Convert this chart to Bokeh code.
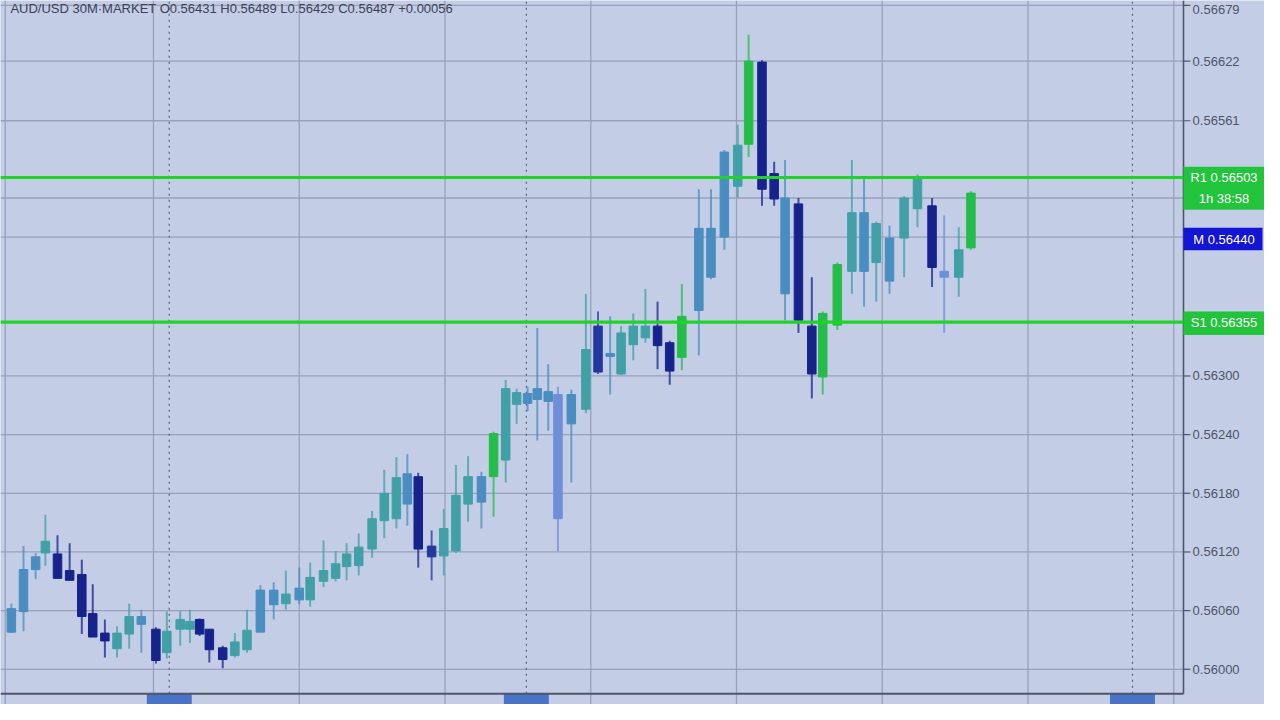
from bokeh.plotting import figure
from bokeh.models import ColumnDataSource, Range1d
from bokeh.core.properties import value
from bokeh.embed import file_html
from bokeh.resources import INLINE

# ---- data (bar time in bar units, OHLC prices) ----
bar_time = [0.0, 1.0, 2.0, 2.8, 3.8, 4.8, 5.8, 6.7, 7.7, 8.7, 9.7, 10.7, 11.9, 12.8, 13.9, 14.7,
            15.5, 16.3, 17.4, 18.4, 19.4, 20.5, 21.6, 22.6, 23.7, 24.6, 25.7, 26.7, 27.6, 28.6,
            29.7, 30.7, 31.7, 32.6, 33.5, 34.6, 35.6, 36.6, 37.6, 38.7, 39.7, 40.7, 41.6, 42.5,
            43.3, 44.2, 45.0, 46.1, 47.3, 48.3, 49.3, 50.2, 51.2, 52.2, 53.2, 54.2, 55.2, 56.6,
            57.6, 58.7, 59.8, 60.7, 61.8, 62.8, 63.7, 64.8, 65.9, 66.8, 68.0, 69.2, 70.2, 71.2,
            72.3, 73.5, 74.6, 75.8, 76.8, 78.0, 79.0]

open_ = [0.56038, 0.56059, 0.56102, 0.56119, 0.56118, 0.56101, 0.56097, 0.56057, 0.56037, 0.56021,
         0.56036, 0.56046, 0.56041, 0.56017, 0.56041, 0.56041, 0.56051, 0.56041, 0.56022, 0.56014,
         0.56020, 0.56038, 0.56066, 0.56067, 0.56071, 0.56071, 0.56090, 0.56093, 0.56105, 0.56106,
         0.56123, 0.56152, 0.56154, 0.56169, 0.56197, 0.56126, 0.56116, 0.56121, 0.56169, 0.56171,
         0.56197, 0.56214, 0.56271, 0.56272, 0.56276, 0.56274, 0.56281, 0.56251, 0.56266, 0.56351,
         0.56320, 0.56302, 0.56332, 0.56339, 0.56351, 0.56334, 0.56319, 0.56367, 0.56401, 0.56442,
         0.56494, 0.56537, 0.56621, 0.56507, 0.56482, 0.56476, 0.56351, 0.56299, 0.56352, 0.56407,
         0.56407, 0.56416, 0.56397, 0.56441, 0.56471, 0.56474, 0.56407, 0.56401, 0.56431]

high = [0.56067, 0.56126, 0.56119, 0.56158, 0.56137, 0.56129, 0.56112, 0.56087, 0.56051, 0.56044,
        0.56067, 0.56061, 0.56043, 0.56059, 0.56059, 0.56061, 0.56052, 0.56041, 0.56024, 0.56037,
        0.56061, 0.56086, 0.56089, 0.56101, 0.56104, 0.56109, 0.56132, 0.56121, 0.56129, 0.56139,
        0.56162, 0.56204, 0.56217, 0.56220, 0.56201, 0.56142, 0.56164, 0.56209, 0.56218, 0.56202,
        0.56243, 0.56296, 0.56287, 0.56289, 0.56349, 0.56312, 0.56289, 0.56286, 0.56384, 0.56366,
        0.56361, 0.56351, 0.56364, 0.56389, 0.56376, 0.56336, 0.56394, 0.56491, 0.56491, 0.56531,
        0.56557, 0.56649, 0.56623, 0.56519, 0.56521, 0.56482, 0.56401, 0.56366, 0.56416, 0.56521,
        0.56504, 0.56458, 0.56454, 0.56484, 0.56506, 0.56482, 0.56464, 0.56452, 0.56489]

low = [0.56037, 0.56039, 0.56092, 0.56106, 0.56093, 0.56091, 0.56036, 0.56033, 0.56012, 0.56012,
       0.56021, 0.56017, 0.56006, 0.56011, 0.56024, 0.56027, 0.56034, 0.56007, 0.56001, 0.56012,
       0.56017, 0.56038, 0.56051, 0.56061, 0.56067, 0.56064, 0.56084, 0.56090, 0.56091, 0.56096,
       0.56114, 0.56134, 0.56144, 0.56147, 0.56104, 0.56091, 0.56096, 0.56119, 0.56151, 0.56144,
       0.56156, 0.56191, 0.56251, 0.56264, 0.56234, 0.56244, 0.56121, 0.56191, 0.56262, 0.56302,
       0.56281, 0.56301, 0.56316, 0.56334, 0.56307, 0.56291, 0.56306, 0.56321, 0.56399, 0.56429,
       0.56482, 0.56524, 0.56474, 0.56474, 0.56357, 0.56344, 0.56277, 0.56281, 0.56347, 0.56384,
       0.56371, 0.56376, 0.56384, 0.56401, 0.56452, 0.56391, 0.56344, 0.56381, 0.56429]

close = [0.56062, 0.56102, 0.56115, 0.56131, 0.56093, 0.56091, 0.56054, 0.56033, 0.56029, 0.56037,
         0.56054, 0.56054, 0.56009, 0.56039, 0.56051, 0.56049, 0.56036, 0.56020, 0.56010, 0.56028,
         0.56040, 0.56081, 0.56081, 0.56077, 0.56083, 0.56094, 0.56101, 0.56108, 0.56118, 0.56125,
         0.56154, 0.56180, 0.56196, 0.56200, 0.56123, 0.56115, 0.56144, 0.56178, 0.56197, 0.56197,
         0.56241, 0.56287, 0.56283, 0.56282, 0.56287, 0.56284, 0.56154, 0.56281, 0.56327, 0.56304,
         0.56323, 0.56344, 0.56351, 0.56351, 0.56331, 0.56305, 0.56361, 0.56451, 0.56451, 0.56529,
         0.56536, 0.56622, 0.56491, 0.56481, 0.56384, 0.56357, 0.56302, 0.56364, 0.56414, 0.56467,
         0.56467, 0.56456, 0.56441, 0.56482, 0.56501, 0.56411, 0.56401, 0.56429, 0.56487]

# candle tone category per bar (N navy, B blue, T teal, S steel, L light, G green)
tone = ["S", "S", "S", "T", "N", "N", "N", "N", "N", "T", "T", "S", "N", "T", "T", "T", "N", "N",
        "N", "T", "T", "S", "S", "T", "S", "T", "T", "T", "T", "T", "T", "T", "T", "S", "N", "B",
        "T", "T", "T", "S", "G", "T", "T", "S", "S", "S", "L", "S", "T", "B", "S", "T", "T", "T",
        "N", "N", "G", "S", "S", "S", "T", "G", "N", "N", "S", "N", "N", "G", "G", "T", "S", "T",
        "S", "T", "T", "N", "L", "T", "G"]

price_ticks = [0.56000, 0.56060, 0.56120, 0.56180, 0.56240, 0.56300, 0.56442, 0.56482,
               0.56561, 0.56622, 0.56679]
time_grid = [-0.5, 11.7, 23.7, 35.7, 47.7, 59.7, 71.7, 83.7, 95.7]
session_marks = [13.0, 42.4, 92.3]
level_upper = 0.56503
level_lower = 0.56355
last_mark = 0.56440

header_text = "AUD/USD 30M·MARKET  O0.56431  H0.56489  L0.56429  C0.56487  +0.00056"
upper_tag = ["R1 0.56503", "1h 38:58"]
mid_tag = "M 0.56440"
lower_tag = "S1 0.56355"

# ---- styling / layout constants ----
palette = {"N": "#17238c", "B": "#23389f", "T": "#41a0a6", "S": "#4a8dc0",
           "L": "#6e8fd8", "G": "#25bd4a"}
BG = "#c3cde6"
GRID = "#98a1ba"
AXIS = "#4f5668"
LEVEL = "#1fd424"
TAG_GREEN = "#22c43c"
TAG_BLUE = "#1414d4"
FONT = "Liberation Sans"

x_lo, x_hi = -0.894, 103.17     # full canvas, time units
y_lo, y_hi = 0.55964, 0.56684   # full canvas, price units
scale_x = 96.5                  # price-scale border
floor_y = 0.55975               # time-scale border
tick_len = 0.57
px_t = 1 / 12.3                 # one reference pixel in time units
px_p = 0.00001                  # one reference pixel in price units

src = ColumnDataSource(dict(
    t=bar_time,
    top=[max(o, c) for o, c in zip(open_, close)],
    bottom=[min(o, c) for o, c in zip(open_, close)],
    high=high, low=low,
    color=[palette[k] for k in tone],
))

p = figure(width=1264, height=704, output_backend="svg", toolbar_location=None,
           x_range=Range1d(x_lo, x_hi), y_range=Range1d(y_lo, y_hi),
           x_axis_location=None, y_axis_location=None,
           min_border=0)
p.grid.visible = False
p.background_fill_color = BG
p.border_fill_color = BG
p.outline_line_color = None

# grids
p.segment(x0=[x_lo] * len(price_ticks), x1=[scale_x] * len(price_ticks),
          y0=price_ticks, y1=price_ticks, line_color=GRID, line_width=1.3)
p.segment(x0=time_grid, x1=time_grid, y0=[y_lo] * len(time_grid), y1=[y_hi] * len(time_grid),
          line_color=GRID, line_width=1.3)

# session markers
p.segment(x0=session_marks, x1=session_marks, y0=[floor_y] * 3, y1=[y_hi] * 3,
          line_color="#5a6072", line_dash="2 4", line_width=1.2)
p.rect(x=session_marks, y=[(floor_y + y_lo) / 2 - 0.000005] * 3, width=3.7,
       height=floor_y - y_lo + 0.00001, fill_color="#4a72c6", line_color=None)

# price scale
p.segment(x0=[scale_x] * len(price_ticks), x1=[scale_x + tick_len] * len(price_ticks),
          y0=price_ticks, y1=price_ticks, line_color=AXIS, line_width=1.2)
label_y = [min(v, y_hi - 9 * px_p) for v in price_ticks]   # keep the top label inside
p.text(x=[scale_x + 0.75] * len(price_ticks), y=label_y,
       text=["%.5f" % v for v in price_ticks], text_color="#4e5566",
       text_font=value(FONT), text_font_size="13px", text_align="left",
       text_baseline="middle")
p.segment(x0=[scale_x], x1=[scale_x], y0=[floor_y], y1=[y_hi], line_color=AXIS, line_width=1.6)
p.segment(x0=[x_lo], x1=[scale_x], y0=[floor_y], y1=[floor_y], line_color=AXIS, line_width=1.8)

# candles
p.segment(x0="t", y0="low", x1="t", y1="high", line_color="color", line_alpha=0.75,
          line_width=2, source=src)
p.vbar(x="t", width=0.7, top="top", bottom="bottom", fill_color="color",
       line_color="color", source=src)

# horizontal levels
p.segment(x0=[x_lo, x_lo], x1=[scale_x, scale_x], y0=[level_upper, level_lower],
          y1=[level_upper, level_lower], line_color=LEVEL, line_width=3.2)

# tags on the price scale
tag_mid = (scale_x + x_hi) / 2
p.quad(left=[scale_x, scale_x, scale_x],
       right=[x_hi, x_hi - 2 * px_t, x_hi],
       top=[level_upper + 11 * px_p, last_mark + 11.5 * px_p, level_lower + 11 * px_p],
       bottom=[level_upper - 33 * px_p, last_mark - 11.5 * px_p, level_lower - 13 * px_p],
       fill_color=[TAG_GREEN, TAG_BLUE, TAG_GREEN], line_color=None)
p.text(x=[tag_mid] * 4,
       y=[level_upper, level_upper - 22 * px_p, last_mark, level_lower],
       text=[upper_tag[0], upper_tag[1], mid_tag, lower_tag], text_color="white",
       text_font=value(FONT), text_font_size="13px", text_align="center",
       text_baseline="middle")

# header
p.text(x=[x_lo + 10 * px_t], y=[y_hi - 8 * px_p], text=[header_text], text_color="#3c4254",
       text_font=value(FONT), text_font_size="13px", text_align="left",
       text_baseline="middle")

open("out.html", "w").write(file_html(p, INLINE))
